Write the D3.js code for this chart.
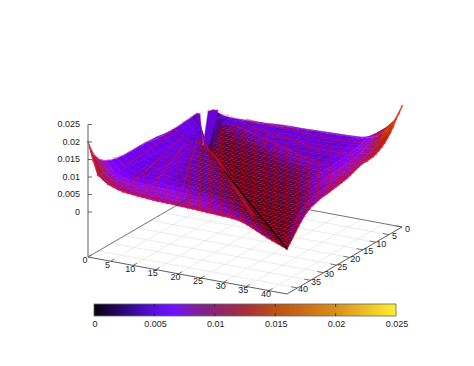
<!DOCTYPE html>
<html lang="en">
<head>
  <meta charset="UTF-8" />
  <title>Surface with colour box</title>
  <style>
    body { margin: 0; background: #fff; }
    text { font-family: "Liberation Sans", sans-serif; font-size: 9px; fill: #222; }
  </style>
  <script src="https://cdnjs.cloudflare.com/ajax/libs/d3/7.8.5/d3.min.js"></script>
</head>
<body>
  <div class="chart"></div>
  <script>
    var xTicks = [0, 5, 10, 15, 20, 25, 30, 35, 40];
    var yTicks = [0, 5, 10, 15, 20, 25, 30, 35, 40];
    var zTicks = [0, 0.005, 0.01, 0.015, 0.02, 0.025];
    var zTickLabels = ["0", "0.005", "0.01", "0.015", "0.02", "0.025"];

    // height, in units of 1e-4, row = y index, column = x index
    var zRows = [
      [0,106,95,92,93,94,95,97,99,100,100,101,102,103,104,105,107,115,133,160,217],
      [100,0,97,100,100,101,101,101,102,102,102,102,102,102,103,105,110,120,138,160,190],
      [99,66,0,90,97,99,100,100,100,101,101,101,101,101,102,103,106,112,122,135,160],
      [97,69,61,0,82,93,97,98,99,100,100,100,100,100,101,102,104,108,113,120,140],
      [95,71,66,53,0,75,90,94,97,98,99,100,100,100,100,100,102,105,108,115,128],
      [94,73,68,64,45,0,67,86,92,95,97,98,99,99,100,100,100,101,103,108,120],
      [95,74,69,66,62,38,0,60,82,90,93,95,97,98,98,99,100,100,101,105,118],
      [97,75,70,67,64,58,32,0,54,78,88,91,94,96,97,98,98,99,100,103,118],
      [100,76,71,68,66,63,53,28,0,48,75,85,90,92,94,96,97,98,99,101,112],
      [101,77,72,69,67,65,61,50,24,0,45,70,82,88,91,93,95,96,97,98,105],
      [103,78,73,70,68,66,64,60,45,22,0,42,67,80,86,90,92,94,95,96,100],
      [103,79,74,70,68,67,65,63,57,41,20,0,38,63,77,84,89,91,92,94,97],
      [103,80,74,71,69,68,66,64,61,53,38,18,0,34,60,75,82,87,90,91,94],
      [103,81,75,72,70,68,67,65,63,60,50,35,17,0,32,56,72,80,85,88,91],
      [103,82,75,72,70,69,67,66,64,62,58,47,32,16,0,30,54,69,78,84,89],
      [106,83,76,73,71,69,68,67,65,64,61,55,45,30,15,0,28,52,67,77,84],
      [110,85,76,73,71,70,68,67,66,65,63,60,53,42,28,14,0,26,49,65,78],
      [118,90,80,75,72,70,69,68,67,65,64,62,59,51,40,26,13,0,25,47,65],
      [131,98,83,77,72,71,69,68,67,66,65,64,61,57,49,38,25,12,0,24,45],
      [155,110,88,80,73,71,69,68,68,67,66,64,62,60,55,47,36,24,12,0,22],
      [200,110,90,80,75,72,70,68,67,66,65,64,62,61,60,57,48,35,22,11,0]
    ];

    // colour value of each node (same units, also)
    var colorRows = [
      [2,58,58,58,58,58,58,58,58,58,58,58,58,58,58,58,60,70,95,140,215],
      [58,2,62,56,57,54,55,55,55,55,56,56,56,56,56,56,60,75,100,130,185],
      [58,48,2,34,62,47,56,59,57,55,54,54,55,55,55,56,60,75,95,120,160],
      [58,64,42,2,29,38,62,50,50,56,60,58,57,56,54,54,58,72,90,110,135],
      [58,61,48,36,2,26,34,44,62,53,47,52,56,59,59,58,60,72,85,100,125],
      [58,52,50,46,32,2,23,31,36,49,62,55,49,49,53,56,59,70,90,105,118],
      [58,56,63,48,42,29,2,20,29,34,38,51,62,56,50,47,50,68,88,102,115],
      [58,58,67,49,46,39,26,2,13,27,32,36,42,53,62,58,52,64,85,100,112],
      [58,61,61,55,48,44,36,17,2,14,26,30,34,37,44,54,62,62,85,98,110],
      [58,63,55,63,49,47,42,34,23,2,16,24,29,32,35,38,47,60,82,95,108],
      [60,64,52,70,50,48,46,40,32,22,2,15,23,28,31,34,36,55,78,92,105],
      [60,63,53,66,57,49,47,44,38,30,20,2,14,21,27,30,33,50,72,90,105],
      [62,62,56,61,63,50,48,46,42,36,29,19,2,13,20,26,29,45,62,85,105],
      [62,61,58,57,68,53,49,47,45,40,35,27,17,2,12,19,25,28,45,75,100],
      [64,61,59,55,68,58,49,48,47,43,39,33,26,17,2,12,19,24,35,65,100],
      [70,61,60,52,67,63,50,49,47,46,42,37,32,25,15,2,11,18,28,55,100],
      [78,66,64,60,64,68,68,66,62,58,54,48,40,34,27,16,2,11,17,42,95],
      [88,78,76,76,78,80,80,78,76,72,68,60,50,42,35,26,13,2,11,30,90],
      [100,92,90,90,92,95,95,92,92,90,86,80,72,62,52,42,32,20,2,20,85],
      [118,105,98,95,92,90,90,88,88,88,88,86,84,84,80,75,65,50,30,2,40],
      [122,118,112,110,108,105,105,105,105,105,105,105,105,105,105,105,100,90,70,40,2]
    ];

    // rim of the surface at twice the grid density
    var edgeBack = [0,100,106,108,97,99,95,94,92,94,93,92,93,96,94,93,95,97,97,96,99,98,100,101,100,99,101,100,102,103,103,102,105,108,112,118,130,140,160,185,217];
    var edgeLeft = [0,95,100,101,99,97,99,100,97,95,96,95,94,95,94,96,95,98,98,100,103,101,104,103,103,102,104,103,104,107,106,112,110,116,118,124,131,142,155,175,200];
    var edgeFront = [200,150,110,100,90,85,80,76,75,74,72,71,70,69,68,68,67,68,66,66,65,65,64,63,62,62,61,60,60,58,57,54,48,42,35,28,22,16,11,5,0];
    var edgeRight = [217,200,190,172,160,150,140,132,128,122,120,120,118,119,118,115,112,108,105,102,100,98,97,95,94,92,91,90,89,87,84,81,78,72,65,55,45,34,22,11,0];

    // red streaks fanning out of the back corner: x, y, height (1e-4)
    var streaks = [
      [[0.6,10,90],[1.2,20,89],[1.8,30,90],[2.2,36,98]],
      [[1.7,10,77],[3.4,20,75],[5.1,30,74],[6.8,40,77]],
      [[2.8,10,70],[5.6,20,71],[8.4,30,71],[11.2,40,71]],
      [[4.5,10,68],[9,20,67],[13.5,30,67],[18,40,67]],
      [[10,1,102],[20,2,102],[30,3,101],[38,3.8,113]],
      [[10,2.8,100],[20,5.6,100],[30,8.4,99],[40,11.2,115]],
      [[10,4.5,98],[20,9,98],[30,13.5,98],[42,18.9,105]]
    ];
    var valleyStreak = [[0,0,0],[9,10,22],[18,20,22],[24,26.7,22],[31,34.4,22]];

    var barStops = [0, 0.0025, 0.005, 0.0065, 0.0085, 0.01, 0.0125, 0.015, 0.02, 0.025];
    var barColors = ["#0a0010", "#2c0878", "#5a10e0", "#7012ff", "#80209a", "#8a2570", "#a5303c", "#bb5015", "#d8901a", "#fff030"];

    var w = 474, h = 366;
    var svg = d3.select(".chart").append("svg").attr("width", w).attr("height", h);

    var axisMax = 44;
    var gridN = zRows.length - 1;
    var edgeN = edgeBack.length - 1;

    // screen corners of the base: back, left, right
    var backCorner = [203, 190], leftCorner = [88, 257], rightCorner = [402, 227];
    var lift = 45;

    var xFrac = d3.scaleLinear().domain([0, axisMax]).range([0, 1]);
    var yFrac = d3.scaleLinear().domain([0, axisMax]).range([0, 1]);
    var zPx = d3.scaleLinear().domain([0, 0.025]).range([0, 87.5]);
    var barColor = d3.scaleLinear().domain(barStops).range(barColors);
    var shade = d3.scaleLinear().domain([0, 30, 60, 70, 100, 250]).range([0, 16, 46, 55, 100, 250]);

    function base(x, y) {
      var a = xFrac(x), b = yFrac(y);
      return [
        backCorner[0] + a * (rightCorner[0] - backCorner[0]) + b * (leftCorner[0] - backCorner[0]),
        backCorner[1] + a * (rightCorner[1] - backCorner[1]) + b * (leftCorner[1] - backCorner[1])
      ];
    }

    function project(x, y, z) {
      var p = base(x, y);
      return [p[0], p[1] - lift - zPx(z)];
    }

    function gridPoint(i, j) {
      return project(i / gridN * axisMax, j / gridN * axisMax, zRows[j][i] * 1e-4);
    }

    // gnuplot default pm3d palette 7,5,15
    function palette(v) {
      var t = Math.max(0, Math.min(1, shade(v) * 1e-4 / 0.025));
      var r = Math.sqrt(t), g = t * t * t, b = Math.max(0, Math.sin(2 * Math.PI * t));
      return d3.rgb(r * 255, g * 255, b * 255).toString();
    }

    var defs = svg.append("defs");
    defs.append("filter").attr("id", "soft")
      .append("feGaussianBlur").attr("stdDeviation", 0.6);
    var dots = defs.append("pattern").attr("id", "dots")
      .attr("patternUnits", "userSpaceOnUse")
      .attr("width", 1).attr("height", 1)
      .attr("patternTransform", "matrix(4.52,0.84,-2.61,1.52,0,0)");
    dots.append("circle").attr("cx", 0.5).attr("cy", 0.5).attr("r", 0.3).attr("fill", "#d0101c");

    // base grid
    var floor = svg.append("g");
    var gridLines = [];
    xTicks.forEach(function(t) { if (t > 0) gridLines.push([base(t, 0), base(t, axisMax)]); });
    yTicks.forEach(function(t) { if (t > 0) gridLines.push([base(0, t), base(axisMax, t)]); });
    floor.selectAll("line").data(gridLines).enter().append("line")
      .attr("x1", function(d) { return d[0][0]; })
      .attr("y1", function(d) { return d[0][1]; })
      .attr("x2", function(d) { return d[1][0]; })
      .attr("y2", function(d) { return d[1][1]; })
      .attr("stroke", "#e2e2e2")
      .attr("stroke-width", 0.7);

    // surface cells, back to front
    var cells = [];
    d3.range(gridN).forEach(function(j) {
      d3.range(gridN).forEach(function(i) {
        var r = Math.abs(i - j) / Math.max(i, j, 1);
        cells.push({
          i: i, j: j, r: r,
          value: (colorRows[j][i] + colorRows[j][i + 1] + colorRows[j + 1][i] + colorRows[j + 1][i + 1]) / 4,
          d: "M" + [gridPoint(i, j), gridPoint(i + 1, j), gridPoint(i + 1, j + 1), gridPoint(i, j + 1)].join("L") + "Z"
        });
      });
    });
    cells.sort(function(a, b) { return (a.i + a.j) - (b.i + b.j); });

    var surface = svg.append("g").attr("filter", "url(#soft)");
    surface.selectAll("path.cell").data(cells).enter().append("path")
      .attr("class", "cell")
      .attr("d", function(d) { return d.d; })
      .attr("fill", function(d) { return palette(d.value); })
      .attr("stroke", function(d) { return palette(d.value); })
      .attr("stroke-width", 0.6);

    // the two slivers either side of the notch at the back corner
    var backRim = edgeBack.map(function(v, k) { return project(k / edgeN * axisMax, 0, v * 1e-4); });
    var leftRim = edgeLeft.map(function(v, k) { return project(0, k / edgeN * axisMax, v * 1e-4); });
    [[gridPoint(0, 0), backRim[1], backRim[2], backRim[3], gridPoint(2, 1), gridPoint(1, 1)],
     [gridPoint(0, 0), leftRim[1], leftRim[2], leftRim[3], gridPoint(1, 2), gridPoint(1, 1)]].forEach(function(p) {
      surface.append("path").attr("d", "M" + p.join("L") + "Z").attr("fill", palette(55));
    });

    // maroon tint towards the valley
    surface.selectAll("path.tint").data(cells.filter(function(c) { return c.r < 0.55 && c.i + c.j > 3; })).enter().append("path")
      .attr("class", "tint")
      .attr("d", function(d) { return d.d; })
      .attr("fill", "#7a0020")
      .attr("opacity", function(d) { return 0.6 * (1 - d.r / 0.55); });

    // red dots, strong near the valley and faint towards the rim
    var dotCells = cells.filter(function(c) { return Math.min(c.i, c.j) >= 2; });
    surface.append("path")
      .attr("d", dotCells.filter(function(c) { return c.r < 0.55; }).map(function(c) { return c.d; }).join(""))
      .attr("fill", "url(#dots)")
      .attr("opacity", 0.85);
    surface.append("path")
      .attr("d", dotCells.filter(function(c) { return c.r >= 0.55; }).map(function(c) { return c.d; }).join(""))
      .attr("fill", "url(#dots)")
      .attr("opacity", 0.35);

    var plainLine = d3.line();
    streaks.forEach(function(s) {
      surface.append("path")
        .attr("d", plainLine(s.map(function(p) { return project(p[0], p[1], p[2] * 1e-4); })))
        .attr("fill", "none").attr("stroke", "#d8101c").attr("stroke-width", 1.5).attr("opacity", 0.45);
    });
    surface.append("path")
      .attr("d", plainLine(valleyStreak.map(function(p) { return project(p[0], p[1], p[2] * 1e-4); })))
      .attr("fill", "none").attr("stroke", "#c01020").attr("stroke-width", 3.2).attr("opacity", 0.7);

    // rim with markers
    var frontRim = edgeFront.map(function(v, k) { return project(k / edgeN * axisMax, axisMax, v * 1e-4); });
    var rightRim = edgeRight.map(function(v, k) { return project(axisMax, k / edgeN * axisMax, v * 1e-4); });
    [[backRim, 0.4, "#f06070"], [leftRim, 0.4, "#f06070"], [frontRim, 0.95, "#e8101c"], [rightRim, 0.75, "#e8202a"]].forEach(function(r) {
      svg.append("path").attr("d", plainLine(r[0]))
        .attr("fill", "none").attr("stroke", r[2]).attr("stroke-width", 0.9).attr("opacity", r[1]);
      svg.append("g").selectAll("path").data(r[0]).enter().append("path")
        .attr("d", function(d) {
          return "M" + (d[0] - 1.3) + "," + d[1] + "h2.6M" + d[0] + "," + (d[1] - 1.3) + "v2.6";
        })
        .attr("stroke", r[2]).attr("stroke-width", 0.6).attr("opacity", r[1]);
    });

    // box lines over the surface
    var backP = base(0, 0), leftP = base(0, axisMax), rightP = base(axisMax, 0), frontP = base(axisMax, axisMax);
    var box = svg.append("g").attr("fill", "none").attr("stroke", "#333").attr("stroke-width", 0.8);
    box.append("path").attr("d", "M" + [leftP, backP, rightP].join("L")).attr("opacity", 0.85);
    box.append("path").attr("d", "M" + [leftP, frontP, rightP].join("L"));
    box.append("path").attr("d", "M" + [backP, project(0, 0, 0)].join("L"));
    // the valley along x = y, faint at the back
    svg.append("path").attr("d", "M" + [gridPoint(0, 0), gridPoint(5, 5)].join("L"))
      .attr("stroke", "#150510").attr("stroke-width", 1).attr("fill", "none").attr("opacity", 0.5);
    svg.append("path").attr("d", "M" + [gridPoint(5, 5), gridPoint(gridN, gridN)].join("L"))
      .attr("stroke", "#150510").attr("stroke-width", 1.4).attr("fill", "none").attr("opacity", 0.9);

    // x and y ticks
    var ticks = svg.append("g").attr("stroke", "#444").attr("stroke-width", 0.7);
    xTicks.forEach(function(t) {
      var a = base(t, axisMax), b = base(t, axisMax - 1.4);
      ticks.append("line").attr("x1", a[0]).attr("y1", a[1]).attr("x2", b[0]).attr("y2", b[1]);
      svg.append("text").attr("x", a[0] - 3).attr("y", a[1] + 4)
        .attr("text-anchor", "middle").attr("dominant-baseline", "middle").text(t);
    });
    yTicks.forEach(function(t) {
      var a = base(axisMax, t), b = base(axisMax - 1.4, t);
      ticks.append("line").attr("x1", a[0]).attr("y1", a[1]).attr("x2", b[0]).attr("y2", b[1]);
      svg.append("text").attr("x", a[0] + 5.5).attr("y", a[1] + 2.2)
        .attr("text-anchor", "middle").attr("dominant-baseline", "middle").text(t);
    });

    // z axis
    var zBase = leftP[1] - lift;
    svg.append("line").attr("x1", leftP[0]).attr("x2", leftP[0])
      .attr("y1", zBase - zPx(0.025)).attr("y2", leftP[1])
      .attr("stroke", "#8a8a8a").attr("stroke-width", 1.4);
    zTicks.forEach(function(t, i) {
      var y = zBase - zPx(t);
      svg.append("line").attr("x1", leftP[0]).attr("x2", leftP[0] + 4)
        .attr("y1", y).attr("y2", y).attr("stroke", "#444").attr("stroke-width", 0.8);
      svg.append("text").attr("x", 80).attr("y", y + 0.5)
        .attr("text-anchor", "end").attr("dominant-baseline", "middle").text(zTickLabels[i]);
    });

    // colour box
    var barX = d3.scaleLinear().domain([0, 0.025]).range([94, 396]);
    var barTop = 304, barH = 12;
    svg.append("g").selectAll("rect").data(d3.range(0, 302)).enter().append("rect")
      .attr("x", function(d) { return 94 + d; })
      .attr("y", barTop).attr("width", 1.2).attr("height", barH)
      .attr("fill", function(d) { return barColor(barX.invert(94 + d)); });
    svg.append("rect").attr("x", 94).attr("y", barTop).attr("width", 302).attr("height", barH)
      .attr("fill", "none").attr("stroke", "#666").attr("stroke-width", 0.8);
    zTicks.forEach(function(t, i) {
      var x = barX(t);
      if (i > 0 && i < zTicks.length - 1) {
        svg.append("line").attr("x1", x).attr("x2", x).attr("y1", barTop).attr("y2", barTop + 3)
          .attr("stroke", "#222").attr("stroke-width", 0.7);
        svg.append("line").attr("x1", x).attr("x2", x).attr("y1", barTop + barH - 3).attr("y2", barTop + barH)
          .attr("stroke", "#222").attr("stroke-width", 0.7);
      }
      svg.append("text").attr("x", x + 1).attr("y", 325)
        .attr("text-anchor", "middle").attr("dominant-baseline", "middle").text(zTickLabels[i]);
    });
  </script>
</body>
</html>
